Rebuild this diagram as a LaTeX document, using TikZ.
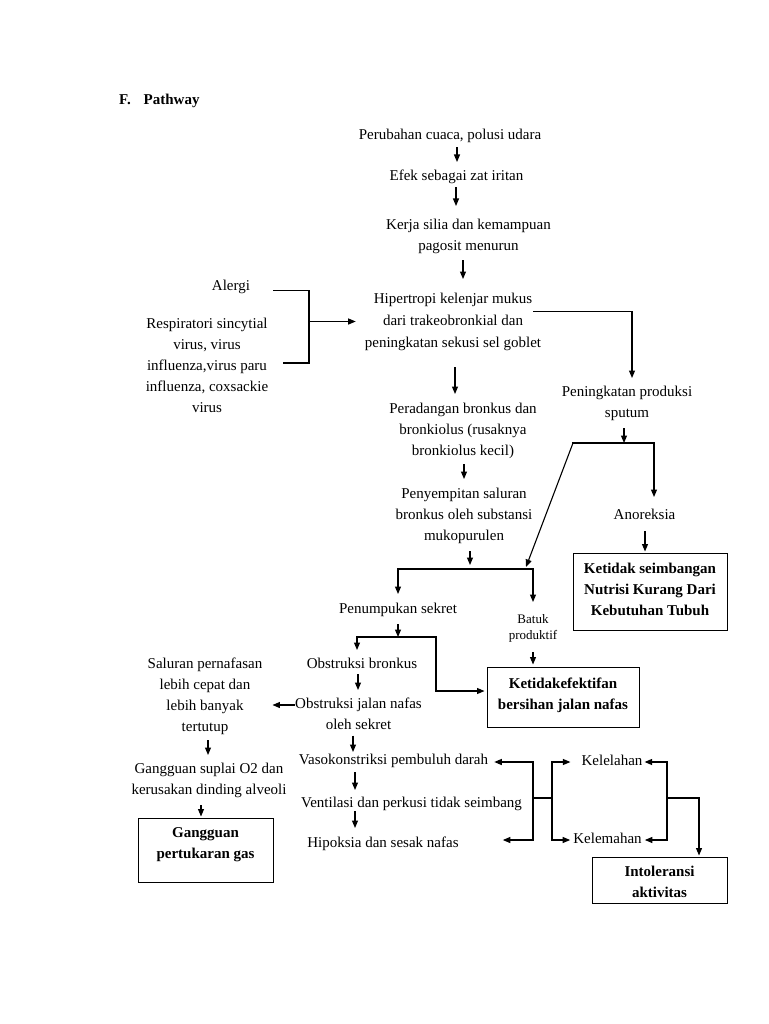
\documentclass[tikz,border=0pt]{standalone}
\usepackage{fontspec}
\setmainfont{Liberation Serif}
\usetikzlibrary{arrows.meta}
\begin{document}
\begin{tikzpicture}[x=1pt,y=-1pt,
  txt/.style={inner sep=0pt, align=center, anchor=north, yshift=7pt, font=\fontsize{15}{21}\selectfont},
  small/.style={inner sep=0pt, align=center, anchor=north, yshift=6pt, font=\fontsize{13}{16.5}\selectfont},
  bold/.style={inner sep=0pt, align=center, anchor=north, yshift=7pt, font=\fontsize{15}{21}\selectfont\bfseries},
  box/.style={draw, line width=1pt, inner sep=0pt},
  ln/.style={line width=1.1pt, line cap=rect},
  arr/.style={line width=1.1pt, -{Triangle[length=7.5pt,width=6pt]}}]
\fill[white] (0,0) rectangle (768,1024);
\useasboundingbox (0,0) rectangle (768,1024);

% title
\node[anchor=base west, inner sep=0pt, font=\fontsize{15}{21}\selectfont\bfseries] (title) at (119,104.5) {F.\hspace{13pt}Pathway};

% text nodes
\node[txt] (pe) at (450,135.5) {Perubahan cuaca, polusi udara};
\node[txt] (ef) at (456.5,177) {Efek sebagai zat iritan};
\node[txt] (ke) at (468.5,226) {Kerja silia dan kemampuan\\pagosit menurun};
\node[txt, font=\fontsize{15}{22}\selectfont] (hi) at (453,300) {Hipertropi kelenjar mukus\\dari trakeobronkial dan\\peningkatan sekusi sel goblet};
\node[txt] (al) at (231,287) {Alergi};
\node[txt] (rs) at (207,325) {Respiratori sincytial\\virus, virus\\influenza,virus paru\\influenza, coxsackie\\virus};
\node[txt] (pr) at (463,410) {Peradangan bronkus dan\\bronkiolus (rusaknya\\bronkiolus kecil)};
\node[txt] (py) at (464,495) {Penyempitan saluran\\bronkus oleh substansi\\mukopurulen};
\node[txt] (ps) at (627,393) {Peningkatan produksi\\sputum};
\node[txt] (an) at (644.5,516) {Anoreksia};
\node[txt] (pk) at (398,610) {Penumpukan sekret};
\node[small] (bt) at (533,620) {Batuk\\produktif};
\node[txt] (ob) at (362,665) {Obstruksi bronkus};
\node[txt] (oj) at (358.5,705) {Obstruksi jalan nafas\\oleh sekret};
\node[txt] (sa) at (205,665) {Saluran pernafasan\\lebih cepat dan\\lebih banyak\\tertutup};
\node[txt] (gs) at (209,770) {Gangguan suplai O2 dan\\kerusakan dinding alveoli};
\node[txt] (va) at (393.5,761) {Vasokonstriksi pembuluh darah};
\node[txt] (ve) at (411.5,804) {Ventilasi dan perkusi tidak seimbang};
\node[txt] (hp) at (383,844) {Hipoksia dan sesak nafas};
\node[txt] (kl) at (612,762) {Kelelahan};
\node[txt] (km) at (607.5,840) {Kelemahan};

% boxes
\node[box, minimum width=154pt, minimum height=77pt] (knbox) at (650,591.5) {};
\node[bold] (kn) at (650,570) {Ketidak seimbangan\\Nutrisi Kurang Dari\\Kebutuhan Tubuh};
\node[box, minimum width=152pt, minimum height=60pt] (kebox) at (563,697) {};
\node[bold] (ke2) at (563,685) {Ketidakefektifan\\bersihan jalan nafas};
\node[box, minimum width=135pt, minimum height=64pt] (gpbox) at (205.5,850) {};
\node[bold] (gp) at (205.5,834) {Gangguan\\pertukaran gas};
\node[box, minimum width=135pt, minimum height=46pt] (iabox) at (659.5,880) {};
\node[bold] (ia) at (659.5,873) {Intoleransi\\aktivitas};

% column / junction coordinates
\coordinate (x457) at (457,0);
\coordinate (x456) at (456,0);
\coordinate (x463) at (463,0);
\coordinate (x455) at (455,0);
\coordinate (x464) at (464,0);
\coordinate (x645) at (645,0);
\coordinate (x358) at (358,0);
\coordinate (x208) at (208,0);
\coordinate (x201) at (201,0);
\coordinate (x353) at (353,0);
\coordinate (x355) at (355,0);
\coordinate (bTop) at (309,290.5);
\coordinate (bBot) at (309,363);
\coordinate (bMid) at (309,321.5);
\coordinate (hiR) at (533,311.5);
\coordinate (psC) at (632,311.5);
\coordinate (jM) at (470,569);
\coordinate (jL) at (398,569);
\coordinate (jR) at (533,569);
\coordinate (sM) at (624,443);
\coordinate (sL) at (573,443);
\coordinate (sR) at (654,443);
\coordinate (dgE) at (526,567);
\coordinate (kJ) at (398,637);
\coordinate (kL) at (357,637);
\coordinate (kR) at (436,637);
\coordinate (kB) at (436,691);
\coordinate (ojL) at (295,705);
\coordinate (lbT) at (533,762);
\coordinate (lbB) at (533,840);
\coordinate (lbM) at (533,798);
\coordinate (rbT) at (552,762);
\coordinate (rbB) at (552,840);
\coordinate (rbM) at (552,798);
\coordinate (r2T) at (667,762);
\coordinate (r2B) at (667,840);
\coordinate (r2M) at (667,798);
\coordinate (iaC) at (699,798);

% main column
\draw[arr, shorten <=4.8pt, shorten >=8pt] (pe.south -| x457) -- (ef.north -| x457);
\draw[arr, shorten <=3.3pt, shorten >=13pt] (ef.south -| x456) -- (ke.north -| x456);
\draw[arr, shorten <=6.3pt, shorten >=14pt] (ke.south -| x463) -- (hi.north -| x463);
\draw[arr, shorten <=16.3pt, shorten >=9pt] (hi.south -| x455) -- (pr.north -| x455);
\draw[arr, shorten <=5pt, shorten >=9pt] (pr.south -| x464) -- (py.north -| x464);

% left causes bracket
\draw[ln, shorten <=23pt, shorten >=15pt] (al.east |- bTop) -- (bTop) -- (bBot) -- (rs.east |- bBot);
\draw[arr, shorten >=9pt] (bMid) -- (hi.west |- bMid);

% hipertropi to sputum
\draw[arr, shorten >=8pt] (hiR) -- (psC) -- (ps.north -| psC);

% sputum split
\draw[arr, shorten <=7.3pt] (ps.south -| sM) -- (sM);
\draw[ln] (sL) -- (sR);
\draw[arr, shorten >=12pt] (sR) -- (an.north -| sR);
\draw[arr] (sL) -- (dgE);
\draw[arr, shorten <=11.5pt, shorten >=1pt] (an.south -| x645) -- (knbox.north -| x645);

% penyempitan split
\draw[arr, shorten <=7.3pt, shorten >=4pt] (py.south -| jM) -- (jM);
\draw[ln] (jL) -- (jR);
\draw[arr, shorten >=9pt] (jL) -- (pk.north -| jL);
\draw[arr, shorten >=12pt] (jR) -- (bt.north -| jR);
\draw[arr, shorten <=9.8pt, shorten >=2pt] (bt.south -| jR) -- (kebox.north -| jR);

% penumpukan split
\draw[arr, shorten <=7.3pt] (pk.south -| kJ) -- (kJ);
\draw[ln] (kL) -- (kR);
\draw[arr, shorten >=8pt] (kL) -- (ob.north -| kL);
\draw[arr, shorten >=2pt] (kR) -- (kB) -- (kebox.west |- kB);

% obstruksi
\draw[arr, shorten <=5.4pt, shorten >=8pt] (ob.south -| x358) -- (oj.north -| x358);
\draw[arr, shorten >=10pt] (ojL) -- (sa.east |- ojL);
\draw[arr, shorten <=5.3pt, shorten >=8pt] (sa.south -| x208) -- (gs.north -| x208);
\draw[arr, shorten <=7.3pt, shorten >=1pt] (gs.south -| x201) -- (gpbox.north -| x201);
\draw[arr, shorten <=5.4pt, shorten >=2pt] (oj.south -| x353) -- (va.north -| x353);
\draw[arr, shorten <=4.3pt, shorten >=7pt] (va.south -| x355) -- (ve.north -| x355);
\draw[arr, shorten <=0.3pt, shorten >=9pt] (ve.south -| x355) -- (hp.north -| x355);

% right brackets
\draw[ln] (lbT) -- (lbB);
\draw[arr, shorten >=6pt] (lbT) -- (va.east |- lbT);
\draw[arr, shorten >=44pt] (lbB) -- (hp.east |- lbB);
\draw[ln] (lbM) -- (rbM);
\draw[ln] (rbT) -- (rbB);
\draw[arr, shorten >=11pt] (rbT) -- (kl.west |- rbT);
\draw[arr, shorten >=3pt] (rbB) -- (km.west |- rbB);
\draw[ln] (r2T) -- (r2B);
\draw[arr, shorten >=2pt] (r2T) -- (kl.east |- r2T);
\draw[arr, shorten >=3pt] (r2B) -- (km.east |- r2B);
\draw[arr, shorten >=1pt] (r2M) -- (iaC) -- (iabox.north -| iaC);
\end{tikzpicture}
\end{document}
